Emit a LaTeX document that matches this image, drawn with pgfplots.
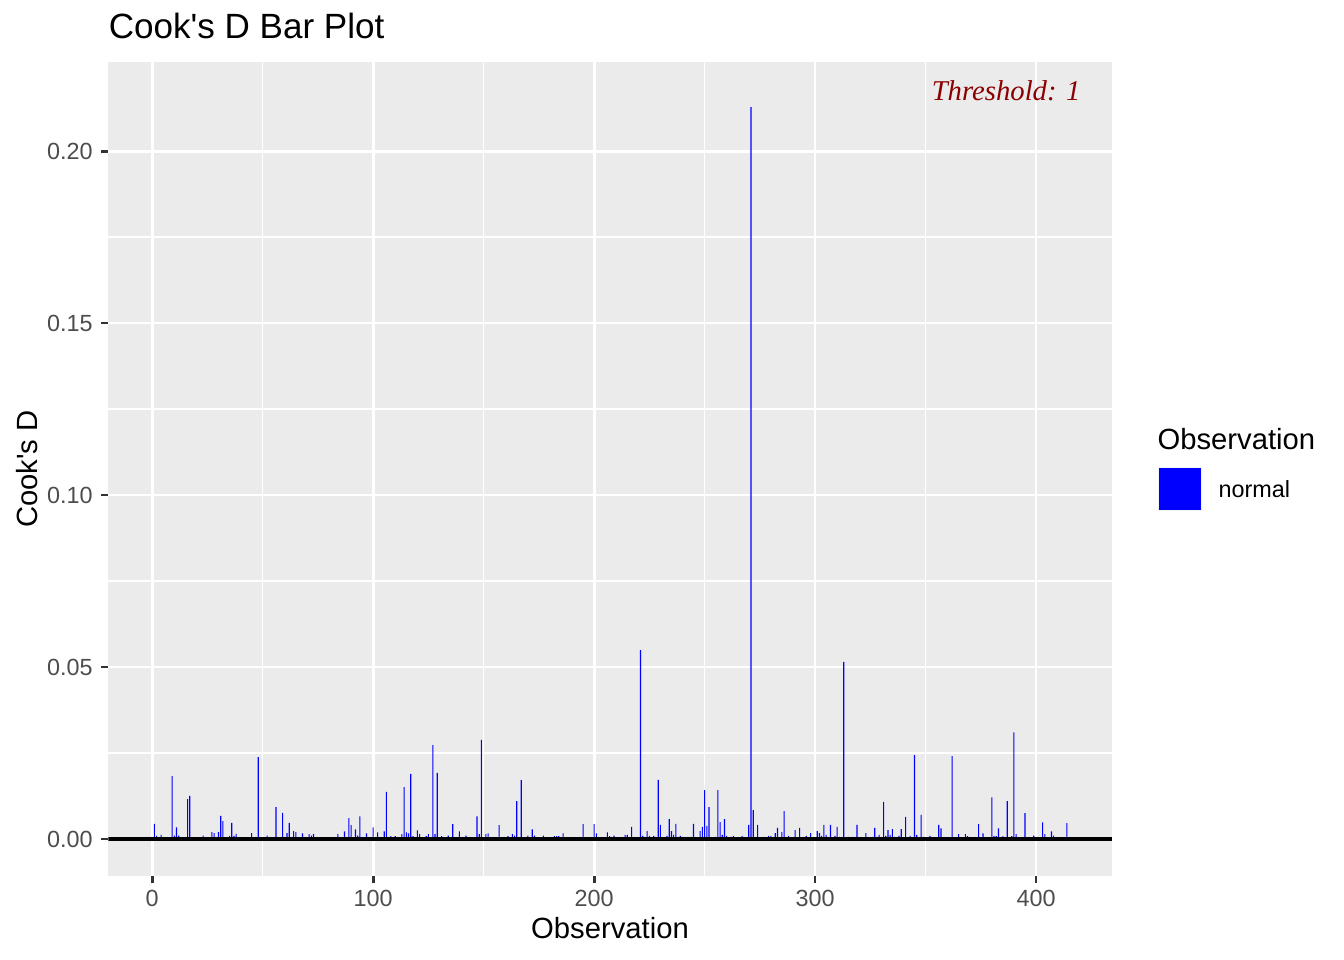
\documentclass[border=0pt]{standalone}
\usepackage{fontspec}
\setmainfont{Liberation Sans}
\newfontfamily\serifit{Liberation Serif}
\usepackage{pgfplots}
\pgfplotsset{compat=1.18}

\definecolor{panelgrey}{HTML}{EBEBEB}
\definecolor{keygrey}{HTML}{F2F2F2}
\definecolor{ticklab}{HTML}{4D4D4D}
\definecolor{tickcol}{HTML}{333333}
\definecolor{darkred}{HTML}{8B0000}

\begin{document}
\begin{tikzpicture}
\begin{axis}[
  at={(40.6bp,31.5bp)}, anchor=south west,
  width=376.4bp, height=305.25bp, scale only axis,
  xmin=-19.9, xmax=434.4, ymin=-0.01076, ymax=0.2259,
  axis background/.style={fill=panelgrey},
  axis line style={draw=none},
  grid=both,
  major grid style={white, line width=1.07bp},
  minor grid style={white, line width=0.53bp},
  xtick={0,100,200,300,400}, xticklabels={0,100,200,300,400},
  minor xtick={50,150,250,350},
  ytick={0,0.05,0.1,0.15,0.2}, yticklabels={0.00,0.05,0.10,0.15,0.20},
  minor ytick={0.025,0.075,0.125,0.175},
  tick pos=left, tick align=outside,
  major tick length=2.74bp, minor tick length=0pt,
  tick style={tickcol, line width=1.07bp},
  ticklabel style={font=\fontsize{8.8}{10}\selectfont, text=ticklab},
  xticklabel style={anchor=north, inner sep=0pt, yshift=-2.2bp},
  yticklabel style={anchor=east, inner sep=0pt, xshift=-2.9bp},
]
\addplot[ybar, bar width=0.5, fill=blue, draw=none] coordinates {
(1,0.0044) (2,0.0009) (4,0.0012) (9,0.0183) (10,0.0010) (11,0.0034) (12,0.0010)
(14,0.0005) (16,0.0116) (17,0.0125) (19,0.0005) (20,0.0005) (23,0.0010) (27,0.0020)
(28,0.0017) (30,0.0020) (31,0.0067) (32,0.0052) (35,0.0009) (36,0.0047) (37,0.0009)
(38,0.0015) (44,0.0005) (45,0.0017) (47,0.0005) (48,0.0238) (52,0.0010) (55,0.0005)
(56,0.0093) (59,0.0076) (61,0.0017) (62,0.0047) (64,0.0023) (65,0.0020)
(68,0.0016) (71,0.0014) (72,0.0010) (73,0.0014) (79,0.0005) (80,0.0005) (84,0.0014)
(87,0.0022) (89,0.0061) (90,0.0040) (92,0.0028) (93,0.0010) (94,0.0066) (97,0.0016)
(99,0.0005) (100,0.0034) (102,0.0019) (103,0.0005) (104,0.0005) (105,0.0022)
(106,0.0137) (108,0.0008) (110,0.0008) (113,0.0014) (114,0.0151) (115,0.0019)
(116,0.0016) (117,0.0189) (118,0.0008) (120,0.0025) (121,0.0014) (123,0.0005)
(124,0.0008) (125,0.0014) (127,0.0273) (128,0.0014) (129,0.0192) (131,0.0008)
(134,0.0010) (136,0.0043) (139,0.0022)
(142,0.0010) (145,0.0005) (147,0.0066) (148,0.0014) (149,0.0288) (150,0.0005)
(151,0.0014) (152,0.0016) (153,0.0005) (154,0.0005) (155,0.0005) (157,0.0040)
(161,0.0008) (163,0.0014) (164,0.0010) (165,0.0110) (167,0.0171) (170,0.0010)
(172,0.0028) (173,0.0010) (177,0.0010) (180,0.0005) (181,0.0005) (182,0.0008)
(183,0.0008) (184,0.0008) (186,0.0016) (190,0.0005) (195,0.0043) (196,0.0005)
(198,0.0005) (200,0.0043) (201,0.0016) (205,0.0005) (206,0.0019) (207,0.0008)
(209,0.0010) (211,0.0005)
(214,0.0012) (215,0.0012) (217,0.0035) (221,0.0549) (222,0.0009) (224,0.0023)
(225,0.0009) (227,0.0009) (229,0.0172) (230,0.0041) (233,0.0009) (234,0.0058)
(235,0.0023) (236,0.0012) (237,0.0044) (239,0.0009) (240,0.0006) (242,0.0006)
(244,0.0006) (245,0.0044) (248,0.0023) (249,0.0035) (250,0.0142) (251,0.0038)
(252,0.0093) (255,0.0006) (256,0.0142) (257,0.0049) (258,0.0012) (259,0.0058)
(260,0.0009) (262,0.0006) (263,0.0009) (267,0.0009) (270,0.0041) (271,0.2128)
(272,0.0084) (274,0.0041) (277,0.0006) (279,0.0009) (280,0.0009) (282,0.0017)
(283,0.0032)
(285,0.0020) (286,0.0081) (287,0.0006) (288,0.0009) (291,0.0026) (293,0.0032)
(296,0.0009) (298,0.0017) (301,0.0023) (302,0.0017) (303,0.0009) (304,0.0041)
(305,0.0012) (307,0.0041) (309,0.0009) (310,0.0035) (311,0.0006) (313,0.0515)
(315,0.0006) (317,0.0006) (319,0.0041) (323,0.0017) (326,0.0006) (327,0.0032)
(328,0.0006) (329,0.0012) (331,0.0108) (332,0.0009) (333,0.0026) (334,0.0012)
(335,0.0029) (336,0.0006) (338,0.0009) (339,0.0029) (341,0.0064) (343,0.0009)
(345,0.0244) (346,0.0012) (348,0.0070) (349,0.0006) (352,0.0009) (356,0.0041)
(357,0.0031) (358,0.0005) (360,0.0005) (362,0.0241) (365,0.0014) (367,0.0005)
(368,0.0014) (369,0.0008) (370,0.0005) (372,0.0005) (374,0.0043) (376,0.0016)
(377,0.0005) (378,0.0005) (379,0.0005) (380,0.0121) (381,0.0008) (382,0.0008)
(383,0.0031) (385,0.0008) (386,0.0005) (387,0.0110) (389,0.0008) (390,0.0310)
(391,0.0014) (395,0.0075) (399,0.0010) (401,0.0005) (403,0.0048) (404,0.0014)
(405,0.0005) (407,0.0022) (408,0.0010) (413,0.0005) (414,0.0046)
};
\draw[black, line width=1.2bp] (axis cs:-19.9,0) -- (axis cs:434.4,0);
\node[anchor=base east, inner sep=0pt, text=darkred,
      font=\serifit\itshape\fontsize{10.8}{12}\selectfont]
  at (axis cs:420.4,0.2146) {Threshold: 1};
\end{axis}
% titles
\node[anchor=base west, inner sep=0pt, font=\fontsize{13.2}{15}\selectfont]
  at (40.6bp,345.4bp) {Cook\textquotesingle s D Bar Plot};
\node[anchor=base, inner sep=0pt, font=\fontsize{11}{13}\selectfont]
  at (228.75bp,8.25bp) {Observation};
\node[anchor=base, rotate=90, inner sep=0pt, font=\fontsize{11}{13}\selectfont]
  at (13.9bp,184.1bp) {Cook\textquotesingle s D};
% legend
\node[anchor=base west, inner sep=0pt, font=\fontsize{11}{13}\selectfont]
  at (433.9bp,191.25bp) {Observation};
\fill[keygrey] (434.25bp,168.4bp) rectangle (450.75bp,184.9bp);
\fill[blue] (434.6bp,168.75bp) rectangle (450.4bp,184.55bp);
\node[anchor=base west, inner sep=0pt, font=\fontsize{8.8}{10}\selectfont]
  at (456.75bp,173.25bp) {normal};
\pgfresetboundingbox
\path[use as bounding box] (0,0) rectangle (504bp,360bp);
\end{tikzpicture}
\end{document}
